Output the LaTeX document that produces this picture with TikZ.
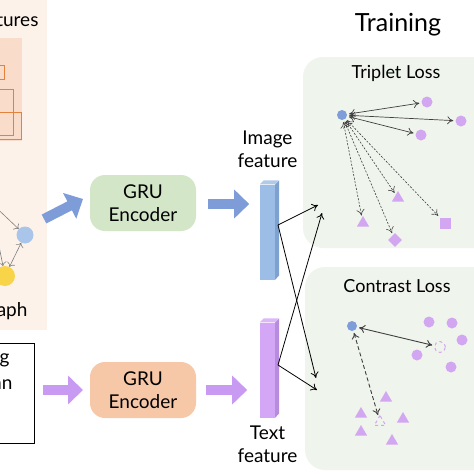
\documentclass[tikz,border=0pt]{standalone}
\usepackage{fontspec}
\setmainfont{Lato}
\usetikzlibrary{arrows.meta,positioning,shapes.geometric}

\definecolor{peachbg}{HTML}{FDF2EA}
\definecolor{peachin}{HTML}{F9DDCA}
\definecolor{boxorange}{HTML}{E3823C}
\definecolor{gblue}{HTML}{A9C5E9}
\definecolor{gyellow}{HTML}{F8D548}
\definecolor{arrblue}{HTML}{7D9CD8}
\definecolor{arrpurple}{HTML}{C99AF2}
\definecolor{encgreen}{HTML}{D3E7C8}
\definecolor{encorange}{HTML}{F6C8A8}
\definecolor{imgfront}{HTML}{9CBDE5}
\definecolor{imgside}{HTML}{7FA1CF}
\definecolor{txtfront}{HTML}{D3A6F6}
\definecolor{txtside}{HTML}{B78BDD}
\definecolor{lossbg}{HTML}{EFF4EC}
\definecolor{ancblue}{HTML}{7F9ED9}
\definecolor{ptpurple}{HTML}{D3A6F2}

\begin{document}
\begin{tikzpicture}[
  x=1pt, y=-1pt,
  font=\fontsize{19}{23}\selectfont,
  panel/.style={rounded corners=20pt, fill=lossbg},
  enc/.style={rounded corners=15pt, minimum width=106pt, minimum height=56pt, align=center, inner sep=0pt},
  bar/.style={minimum width=15pt, minimum height=95pt, inner sep=0pt},
  blockarr/.style={line width=10pt, -{Triangle[length=15pt, width=28pt]}},
  thinarr/.style={-{To[length=4pt]}, draw=gray, line width=0.6pt},
  thindbl/.style={{To[length=4pt]}-{To[length=4pt]}, draw=gray, line width=0.6pt},
  feat/.style={-{To[length=6pt, width=8pt]}, line width=0.8pt},
  dbl/.style={{To[length=6pt, width=8pt]}-{To[length=6pt, width=8pt]}, line width=0.7pt, draw=black!75, shorten >=2pt, shorten <=2pt},
  dbldash/.style={dbl, dash pattern=on 2pt off 1.5pt, line width=0.6pt},
  anc/.style={circle, fill=ancblue, minimum size=10pt, inner sep=0pt},
  pt/.style={circle, fill=ptpurple, minimum size=11pt, inner sep=0pt},
  tri/.style={regular polygon, regular polygon sides=3, fill=ptpurple, minimum size=14pt, inner sep=0pt},
  title/.style={font=\fontsize{18}{22}\selectfont},
]
  \useasboundingbox (0,0) rectangle (474,474);
  \clip (0,0) rectangle (474,474);
  \fill[white] (0,0) rectangle (474,474);

  % left: visual features and graph
  \fill[peachbg] (-20,-20) rectangle (47,330);
  \fill[peachin] (-20,38) rectangle (22,141);
  \draw[boxorange, line width=1pt] (-30,65) rectangle (4,79);
  \draw[boxorange, line width=1pt] (-30,89) rectangle (13,135);
  \draw[boxorange, line width=1pt] (-30,112) rectangle (21,139);
  \node[anchor=base east] (feattitle) at (42,26) {atures};

  \node[circle, fill=gblue, minimum size=17pt, inner sep=0pt] (nblue) at (25,235) {};
  \node[circle, fill=gyellow, minimum size=20pt, inner sep=0pt] (nyellow) at (5,276) {};
  \coordinate (g1) at (-15,197);
  \coordinate (g2) at (-3,236);
  \draw[thinarr] (g1) -- (nblue);
  \draw[thinarr] (g2) -- (nyellow);
  \draw[thindbl] (nyellow) -- (nblue);
  \node[anchor=base east] (graphtitle) at (31,316) {aph};

  % left: text box
  \draw[line width=0.8pt] (-20,343) rectangle (34,443);
  \node[anchor=base east] (t1) at (13,363) {g};
  \node[anchor=base east] (t2) at (16,389) {an};

  % encoders
  \node[enc, fill=encgreen] (imgenc) at (143,203) {GRU\\Encoder};
  \node[enc, fill=encorange] (txtenc) at (143,390) {GRU\\Encoder};

  \coordinate (a1s) at (44,219);
  \coordinate (a1e) at (83,199);
  \draw[blockarr, arrblue] (a1s) -- (a1e);
  \coordinate (a2s) at (43,390);
  \coordinate (a2e) at (83,390);
  \draw[blockarr, arrpurple] (a2s) -- (a2e);

  % feature bars
  \node[bar, fill=imgfront] (imgbar) at (267.5,232) {};
  \fill[imgside] (imgbar.south east) -- (imgbar.north east) -- ++(4,-4) -- ++(0,95) -- cycle;
  \fill[imgfront!80!white] (imgbar.north west) -- ++(4,-4) -- ++(15,0) -- (imgbar.north east) -- cycle;
  \node[bar, fill=txtfront] (txtbar) at (267.5,370) {};
  \fill[txtside] (txtbar.south east) -- (txtbar.north east) -- ++(4,-4) -- ++(0,95) -- cycle;
  \fill[txtfront!80!white] (txtbar.north west) -- ++(4,-4) -- ++(15,0) -- (txtbar.north east) -- cycle;

  \draw[blockarr, arrblue] (imgenc.east) ++(12,1) -- ++(41,0);
  \draw[blockarr, arrpurple] (txtenc.east) ++(10,0) -- ++(41,0);

  \node[above=13pt of imgbar, align=center] (imglabel) {Image\\feature};
  \node[below=5pt of txtbar, align=center] (txtlabel) {Text\\feature};

  % training
  \node (training) at (398,25) {\fontsize{25}{30}\selectfont Training};
  \fill[panel] (303,57) rectangle (500,248);
  \fill[panel] (305,267) rectangle (500,470);
  \node[title] (triplet) at (396,73) {Triplet Loss};
  \node[title] (contrast) at (397,286) {Contrast Loss};

  \coordinate (imgout) at (278,225);
  \coordinate (txtout) at (278,365);
  \coordinate (tin1) at (318,205);
  \coordinate (tin2) at (322,213);
  \coordinate (cin1) at (316,378);
  \coordinate (cin2) at (317,390);
  \draw[feat] (imgout) -- (tin1);
  \draw[feat] (txtout) -- (tin2);
  \draw[feat] (imgout) -- (cin1);
  \draw[feat] (txtout) -- (cin2);

  % triplet loss
  \node[anc] (ta) at (342,115) {};
  \node[pt] (tp1) at (427,102) {};
  \node[pt] (tp2) at (461,121) {};
  \node[pt] (tp3) at (421,135) {};
  \node[tri] (tn1) at (398,198) {};
  \node[tri] (tn2) at (363,223) {};
  \node[diamond, fill=ptpurple, minimum size=14pt, inner sep=0pt] (tn3) at (395,240) {};
  \node[fill=ptpurple, minimum size=11pt, inner sep=0pt] (tn4) at (445,223) {};
  \foreach \p in {tp1,tp2,tp3}
    \draw[dbl] (ta) -- (\p);
  \foreach \n in {tn1,tn2,tn3,tn4}
    \draw[dbldash] (ta) -- (\n);

  % contrast loss
  \node[anc] (ca) at (352,326) {};
  \foreach \x/\y [count=\i] in {429/322,452/323,462/340,417/355,451/367}
    \node[pt] (cp\i) at (\x,\y) {};
  \node[circle, draw=ptpurple, dashed, line width=1pt, minimum size=11pt, inner sep=0pt] (cpc) at (440,347) {};
  \foreach \x/\y [count=\i] in {386/398,361/414,403/419,361/432,392/441}
    \node[tri] (cn\i) at (\x,\y) {};
  \node[regular polygon, regular polygon sides=3, draw=ptpurple, dashed, line width=1pt, minimum size=13pt, inner sep=0pt] (cnc) at (380,422) {};
  \draw[dbl, line width=0.9pt] (ca) -- (cpc);
  \draw[dbl, line width=0.9pt, dash pattern=on 4pt off 2.5pt] (ca) -- (cnc);
\end{tikzpicture}
\end{document}
